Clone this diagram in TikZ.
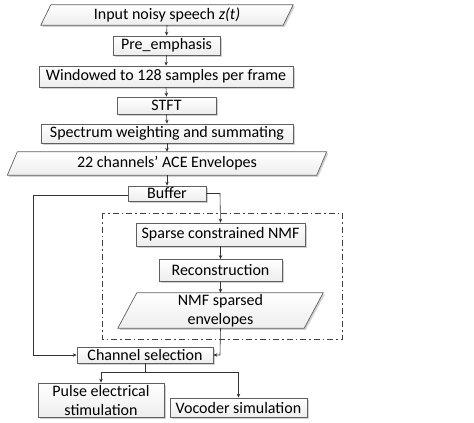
\documentclass[tikz,border=0pt]{standalone}
\usepackage{fontspec}
\setmainfont{Carlito}
\usetikzlibrary{shadows,backgrounds,arrows.meta}
\begin{document}
\begin{tikzpicture}[x=1pt,y=-1pt,
  font=\fontsize{16}{19}\selectfont,
  boxstyle/.style={draw=gray!75!black, line width=0.7pt, top color=white, bottom color=gray!14,
    drop shadow={shadow xshift=1.6pt, shadow yshift=-1.6pt, fill=gray!60, opacity=0.6},
    inner sep=0pt, anchor=center},
  paratext/.style={inner sep=0pt, align=center},
  paraline/.style={draw=gray!75!black, line width=0.7pt, top color=white, bottom color=gray!14,
    drop shadow={shadow xshift=1.6pt, shadow yshift=-1.6pt, fill=gray!60, opacity=0.6}},
  conn/.style={draw=gray!40!black, line width=0.6pt},
  arr/.style={conn, -{Stealth[length=4pt,width=3.5pt]}},
  frame/.style={draw=gray!50!black, line width=0.8pt, dash pattern=on 6pt off 3pt on 1.5pt off 3pt}]
\useasboundingbox (0,0) rectangle (474,423);

% Input parallelogram
\node[paratext, minimum width=242, minimum height=20] (in) at (167,15) {Input noisy speech \textit{z(t)}};
\begin{pgfonlayer}{background}
\path[paraline] ([xshift=-5pt]in.south west) -- ([xshift=5pt]in.north west) -- ([xshift=5pt]in.north east) -- ([xshift=-5pt]in.south east) -- cycle;
\end{pgfonlayer}

\node[boxstyle, minimum width=107, minimum height=19] (pre) at (166.5,45.5) {Pre\_emphasis};
\node[boxstyle, minimum width=254, minimum height=21] (win) at (166,76.5) {Windowed to 128 samples per frame};
\node[boxstyle, minimum width=99, minimum height=17] (stft) at (166.5,105.5) {STFT};
\node[boxstyle, minimum width=252, minimum height=19] (spec) at (167,133.5) {Spectrum weighting and summating};

% 22 channels parallelogram
\node[paratext, minimum width=309, minimum height=23] (ace) at (167,163.5) {22 channels’ ACE Envelopes};
\begin{pgfonlayer}{background}
\path[paraline] ([xshift=-5pt]ace.south west) -- ([xshift=5pt]ace.north west) -- ([xshift=5pt]ace.north east) -- ([xshift=-5pt]ace.south east) -- cycle;
\end{pgfonlayer}

\node[boxstyle, minimum width=78, minimum height=15] (buf) at (167,193.5) {Buffer};

% dash-dot frame
\draw[frame] (102,213) rectangle (342,339);

\node[boxstyle, minimum width=169, minimum height=23] (nmf) at (220.5,234.5) {Sparse constrained NMF};
\node[boxstyle, minimum width=123, minimum height=22] (rec) at (220.5,270.5) {Reconstruction};

% NMF sparsed parallelogram
\node[paratext, minimum width=186, minimum height=35] (sp) at (220.5,310.5) {NMF sparsed\\envelopes};
\begin{pgfonlayer}{background}
\path[paraline] ([xshift=-9.5pt]sp.south west) -- ([xshift=9.5pt]sp.north west) -- ([xshift=9.5pt]sp.north east) -- ([xshift=-9.5pt]sp.south east) -- cycle;
\end{pgfonlayer}

\node[boxstyle, minimum width=136, minimum height=16] (cs) at (145,355) {Channel selection};
\node[boxstyle, minimum width=126, minimum height=34, align=center] (pulse) at (101,400) {Pulse electrical\\stimulation};
\node[boxstyle, minimum width=137, minimum height=19] (voc) at (238.5,407.5) {Vocoder simulation};

\coordinate (bl) at (33,195);
\coordinate (br) at (220,193.5);
\coordinate (sb) at (220,355);
\coordinate (split) at (145,372);

% connectors
\draw[arr] (in.south) -- (pre.north);
\draw[arr] (pre.south) -- (win.north);
\draw[arr] (win.south) -- (stft.north);
\draw[arr] (stft.south) -- (spec.north);
\draw[arr] (spec.south) -- (ace.north);
\draw[arr] (ace.south) -- (buf.north);
\draw[arr] (buf.east |- br) -- (br) -- (nmf.north);
\draw[arr] (nmf.south) -- (rec.north);
\draw[arr] (rec.south) -- (sp.north);
\draw[arr] (sp.south) -- (sb) -- (cs.east);
\draw[arr] (buf.west |- bl) -- (bl) |- (cs.west);
\draw[conn] (cs.south) -- (split);
\draw[arr] (split) -| (pulse.north);
\draw[arr] (split) -| (voc.north);
\end{tikzpicture}
\end{document}
